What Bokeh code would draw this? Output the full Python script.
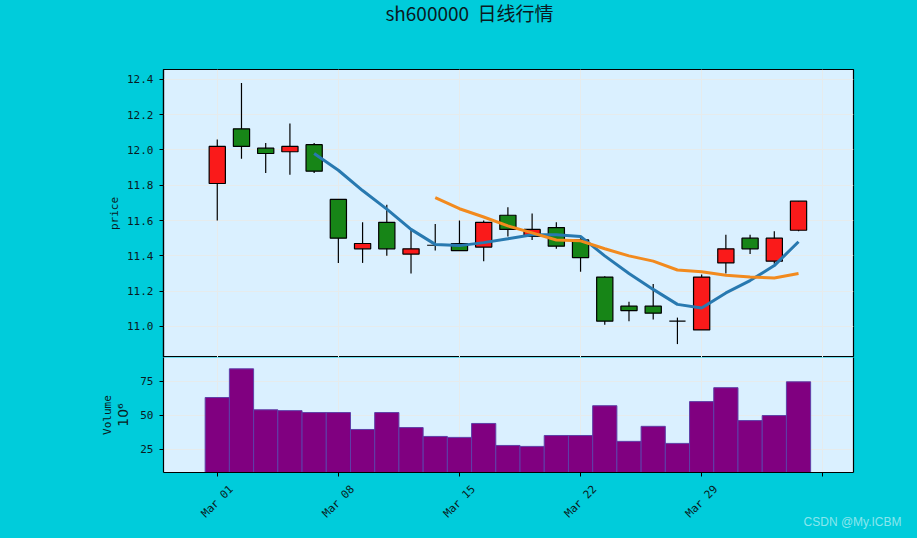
from math import pi
from bokeh.plotting import figure
from bokeh.layouts import column
from bokeh.models import Range1d, FixedTicker, Label, ColumnDataSource, NumeralTickFormatter, LinearAxis
from bokeh.embed import file_html
from bokeh.resources import INLINE

title_text = "sh600000\u00a0\u00a0日线行情"
tick_positions = [0, 5, 10, 15, 20, 25]
tick_labels = ["Mar 01", "Mar 08", "Mar 15", "Mar 22", "Mar 29", ""]
session = list(range(25))
open_ = [11.81, 12.12, 12.01, 11.99, 12.03, 11.72, 11.44, 11.59, 11.41, 11.46, 11.47, 11.45, 11.63,
         11.51, 11.56, 11.49, 11.28, 11.115, 11.115, 11.03, 10.98, 11.36, 11.50, 11.37, 11.545]
high = [12.06, 12.38, 12.04, 12.15, 12.04, 11.72, 11.59, 11.69, 11.55, 11.58, 11.60, 11.60, 11.675,
        11.64, 11.59, 11.50, 11.285, 11.14, 11.24, 11.05, 11.295, 11.52, 11.52, 11.54, 11.71]
low = [11.60, 11.95, 11.87, 11.86, 11.87, 11.36, 11.36, 11.40, 11.30, 11.43, 11.43, 11.37, 11.51,
       11.49, 11.44, 11.31, 11.01, 11.03, 11.04, 10.90, 10.98, 11.30, 11.41, 11.355, 11.54]
close = [12.02, 12.02, 11.98, 12.02, 11.88, 11.50, 11.47, 11.44, 11.44, 11.46, 11.43, 11.59, 11.55,
         11.55, 11.455, 11.39, 11.03, 11.09, 11.075, 11.03, 11.28, 11.44, 11.44, 11.50, 11.71]
ma5_x = session[4:]
ma5 = [11.98, 11.885, 11.77, 11.665, 11.55, 11.465, 11.458, 11.475, 11.497, 11.52, 11.52, 11.51,
       11.40, 11.30, 11.21, 11.125, 11.105, 11.19, 11.26, 11.345, 11.48]
ma10_x = session[9:]
ma10 = [11.73, 11.667, 11.62, 11.57, 11.53, 11.49, 11.485, 11.44, 11.40, 11.37, 11.32, 11.31,
        11.29, 11.28, 11.275, 11.30]
volume = [63, 84, 54, 53.4, 52, 52, 39.6, 52, 41, 34.5, 33.8, 44, 27.9, 27.2, 35.2, 35.2, 57,
          30.9, 41.9, 29.4, 60, 70.2, 46.1, 49.8, 74.5]

BG = "#00CCDB"
AX = "#DAF0FF"
GRID = "#E6EBEC"
UP = "#FA1A1A"
DOWN = "#178517"
MONO = "DejaVu Sans Mono"
TICK_SIZE = "11px"
INK = "#0A1A22"

X0, X1 = -2.22, 26.27
x_range = Range1d(X0, X1)
scale = (X1 - X0) / 690


def style(p):
    p.background_fill_color = AX
    p.border_fill_color = BG
    p.outline_line_color = "black"
    p.outline_line_width = 1.2
    for g in (p.xgrid[0], p.ygrid[0]):
        g.grid_line_color = GRID
        g.grid_line_width = 1
    for a in (p.xaxis[0], p.yaxis[0]):
        a.axis_line_color = "black"
        a.axis_line_width = 1.2
        a.major_tick_line_color = "black"
        a.minor_tick_line_color = None
        a.major_tick_in = 0
        a.major_tick_out = 4
        a.major_label_text_font = MONO
        a.major_label_text_font_size = TICK_SIZE
        a.major_label_text_color = INK
        a.axis_label_text_font = MONO
        a.axis_label_text_font_size = TICK_SIZE
        a.axis_label_text_font_style = "normal"
        a.axis_label_text_color = INK
    p.yaxis[0].major_label_standoff = 6


def make_strip(height):
    s = figure(width=917, height=height, x_range=Range1d(X0 - 163 * scale, X1 + 64 * scale),
               y_range=Range1d(0, height), output_backend="svg", toolbar_location=None,
               x_axis_location=None, y_axis_location=None,
               min_border_left=0, min_border_right=0, min_border_top=0, min_border_bottom=0)
    s.grid.visible = False
    s.outline_line_color = None
    s.background_fill_color = BG
    s.border_fill_color = BG
    return s


header = make_strip(69)
header.add_layout(Label(x=469, y=57, x_units="screen", y_units="screen", text=title_text,
                        text_align="center", text_baseline="middle", text_font_size="19px",
                        text_font="Noto Sans CJK SC", text_color=INK))

top = figure(width=917, height=288, x_range=x_range, y_range=Range1d(10.824, 12.456),
             output_backend="svg", toolbar_location=None,
             min_border_left=163, min_border_right=64, min_border_top=0, min_border_bottom=0)
style(top)
top.xaxis.visible = False
top.xgrid.ticker = FixedTicker(ticks=tick_positions)
price_ticks = [11.0, 11.2, 11.4, 11.6, 11.8, 12.0, 12.2, 12.4]
top.yaxis.ticker = FixedTicker(ticks=price_ticks)
top.ygrid.ticker = FixedTicker(ticks=price_ticks)
top.yaxis.formatter = NumeralTickFormatter(format="0.0")
top.yaxis.axis_label = "price"
top.yaxis.axis_label_standoff = 3

candles = ColumnDataSource(dict(
    x=session, high=high, low=low,
    body_top=[max(o, c) for o, c in zip(open_, close)],
    body_bottom=[min(o, c) for o, c in zip(open_, close)],
    color=[UP if c > o else DOWN for o, c in zip(open_, close)],
))
top.segment("x", "high", "x", "low", source=candles, line_color="black", line_width=1.2)
top.vbar("x", 0.67, "body_top", "body_bottom", source=candles, fill_color="color",
         line_color="black", line_width=1.2)
top.line(ma5_x, ma5, line_color="#2879B0", line_width=3)
top.line(ma10_x, ma10, line_color="#F28A1E", line_width=3)

bottom = figure(width=917, height=120, x_range=x_range, y_range=Range1d(8.1, 92.3),
                output_backend="svg", toolbar_location=None,
                min_border_left=163, min_border_right=64, min_border_top=0, min_border_bottom=5)
style(bottom)
bottom.outline_line_color = None
bottom.add_layout(LinearAxis(ticker=FixedTicker(ticks=[]), axis_line_color="black", axis_line_width=1.2),
                  "right")
bottom.xaxis[0].ticker = FixedTicker(ticks=tick_positions)
bottom.xaxis[0].major_label_overrides = {t: "" for t in tick_positions}
bottom.xaxis[0].major_label_standoff = 0
bottom.xgrid.ticker = FixedTicker(ticks=tick_positions)
bottom.yaxis[0].ticker = FixedTicker(ticks=[25, 50, 75])
bottom.ygrid.ticker = FixedTicker(ticks=[25, 50, 75])
bottom.yaxis[0].axis_label = "10⁶"
bottom.yaxis[0].axis_label_text_font = "DejaVu Sans"
bottom.yaxis[0].axis_label_text_font_size = "14px"
bottom.yaxis[0].axis_label_standoff = 6
bottom.add_layout(LinearAxis(ticker=FixedTicker(ticks=[]), axis_line_color=None, axis_label="Volume",
                             axis_label_text_font=MONO, axis_label_text_font_size=TICK_SIZE,
                             axis_label_text_font_style="normal", axis_label_text_color=INK,
                             axis_label_standoff=-1), "left")
bottom.vbar(session, 1.0, volume, 0, fill_color="#800080", line_color="#5F3FA8", line_width=1)

strip = make_strip(61)
for pos, lab in zip(tick_positions, tick_labels):
    if lab:
        strip.add_layout(Label(x=pos, y=37, y_units="screen", text=lab, angle=pi / 4,
                               text_align="center", text_baseline="middle",
                               text_font=MONO, text_font_size=TICK_SIZE, text_color=INK))
strip.add_layout(Label(x=901, y=17, x_units="screen", y_units="screen", text="CSDN @My.ICBM",
                       text_align="right", text_baseline="middle", text_font_size="12px",
                       text_font="Liberation Sans", text_color="white", text_alpha=0.55))

page = column(header, column(top, bottom, spacing=0), strip, spacing=0)
html = file_html(page, INLINE)
css = f"<style>html,body{{margin:0;padding:0;overflow:hidden;background:{BG} !important}}</style>"
html = html.replace("</head>", css + "</head>", 1)
open("out.html", "w").write(html)
